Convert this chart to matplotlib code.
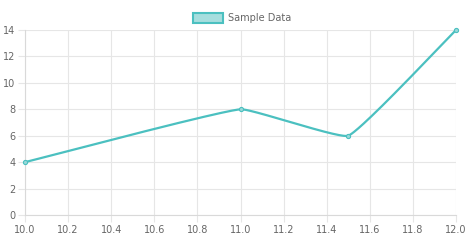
import numpy as np
import matplotlib
matplotlib.use("Agg")
import matplotlib.pyplot as plt
from matplotlib.patches import Rectangle

x_vals = [10.0, 11.0, 11.5, 12.0]
y_vals = [4, 8, 6, 14]
series_label = "Sample Data"
x_ticks = [10.0, 10.2, 10.4, 10.6, 10.8, 11.0, 11.2, 11.4, 11.6, 11.8, 12.0]
y_ticks = [0, 2, 4, 6, 8, 10, 12, 14]

W, H = 474, 248
fig = plt.figure(figsize=(W / 100, H / 100), dpi=100)
L, R, B, T = 25 / W, 456 / W, (H - 215) / H, (H - 30) / H
ax = fig.add_axes([L, B, R - L, T - B])
ax.set_xlim(10, 12)
ax.set_ylim(0, 14)

line_c = (75 / 255, 192 / 255, 192 / 255)
grid_c = "#e6e6e6"
txt_c = "#666666"

# Chart.js style spline (computed in pixel space)
sx = (456 - 25) / 2.0
sy = (215 - 30) / 14.0
px = np.array(x_vals) * sx
py = np.array(y_vals) * sy
tension = 0.1
n = len(px)
cp_prev = []
cp_next = []
for i in range(n):
    pp = (px[max(i - 1, 0)], py[max(i - 1, 0)])
    cc = (px[i], py[i])
    nn = (px[min(i + 1, n - 1)], py[min(i + 1, n - 1)])
    d01 = np.hypot(cc[0] - pp[0], cc[1] - pp[1])
    d12 = np.hypot(nn[0] - cc[0], nn[1] - cc[1])
    s01 = d01 / (d01 + d12) if (d01 + d12) else 0
    s12 = d12 / (d01 + d12) if (d01 + d12) else 0
    fa = tension * s01
    fb = tension * s12
    cp_prev.append((cc[0] - fa * (nn[0] - pp[0]), cc[1] - fa * (nn[1] - pp[1])))
    cp_next.append((cc[0] + fb * (nn[0] - pp[0]), cc[1] + fb * (nn[1] - pp[1])))
cx, cy = [], []
t = np.linspace(0, 1, 60)
for i in range(n - 1):
    p0 = np.array([px[i], py[i]])
    p1 = np.array(cp_next[i])
    p2 = np.array(cp_prev[i + 1])
    p3 = np.array([px[i + 1], py[i + 1]])
    pts = ((1 - t) ** 3)[:, None] * p0 + (3 * (1 - t) ** 2 * t)[:, None] * p1 + \
          (3 * (1 - t) * t ** 2)[:, None] * p2 + (t ** 3)[:, None] * p3
    cx.extend(pts[:, 0] / sx)
    cy.extend(pts[:, 1] / sy)

ax.plot(cx, cy, color=line_c, lw=1.6, zorder=3, clip_on=False, solid_capstyle="round")
ax.scatter(x_vals, y_vals, s=9, facecolor=(0.6, 0.85, 0.85), edgecolor=line_c,
           linewidth=0.8, zorder=4, clip_on=False)

ax.set_xticks(x_ticks)
ax.set_xticklabels([f"{v:.1f}" for v in x_ticks])
ax.set_yticks(y_ticks)
ax.grid(True, color=grid_c, lw=0.8)
for s in ax.spines.values():
    s.set_visible(False)
ax.spines["left"].set_visible(True)
ax.spines["bottom"].set_visible(True)
ax.spines["left"].set_color("#d9d9d9")
ax.spines["bottom"].set_color("#d9d9d9")
ax.tick_params(axis="both", colors=grid_c, labelcolor=txt_c, labelsize=7,
               length=5, width=0.8, pad=2)

# legend
fig.patches.append(Rectangle((193 / W, (H - 23) / H), 30 / W, 10 / H,
                             transform=fig.transFigure, facecolor=(0.65, 0.87, 0.87),
                             edgecolor=line_c, lw=1.5))
fig.text(228 / W, (H - 18) / H, series_label, color=txt_c, fontsize=7,
         va="center", ha="left")

fig.savefig("out.png", dpi=100, facecolor="white")
